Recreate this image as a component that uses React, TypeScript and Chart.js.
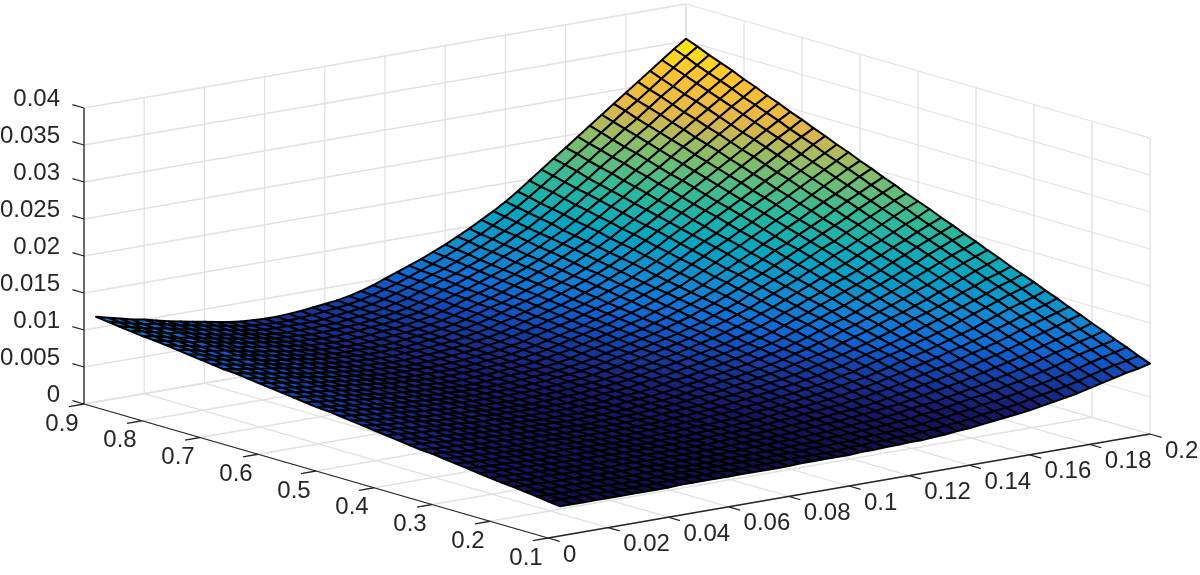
import React, { useEffect, useRef } from "react";
import { Chart, registerables } from "chart.js";

Chart.register(...registerables);

const xTicks = [0, 0.02, 0.04, 0.06, 0.08, 0.1, 0.12, 0.14, 0.16, 0.18, 0.2];
const xTickLabels = ["0", "0.02", "0.04", "0.06", "0.08", "0.1", "0.12", "0.14", "0.16", "0.18", "0.2"];
const yTicks = [0.1, 0.2, 0.3, 0.4, 0.5, 0.6, 0.7, 0.8, 0.9];
const yTickLabels = ["0.1", "0.2", "0.3", "0.4", "0.5", "0.6", "0.7", "0.8", "0.9"];
const zTicks = [0, 0.005, 0.01, 0.015, 0.02, 0.025, 0.03, 0.035, 0.04];
const zTickLabels = ["0", "0.005", "0.01", "0.015", "0.02", "0.025", "0.03", "0.035", "0.04"];

const xValues = [0.004,0.008,0.012,0.016,0.02,0.024,0.028,0.032,0.036,0.04,0.044,0.048,0.052,0.056,0.06,0.064,0.068,0.072,0.076,0.08,0.084,0.088,0.092,0.096,0.1,0.104,0.108,0.112,0.116,0.12,0.124,0.128,0.132,0.136,0.14,0.144,0.148,0.152,0.156,0.16,0.164,0.168,0.172,0.176,0.18,0.184,0.188,0.192,0.196,0.2];
const yValues = [0.1,0.12,0.14,0.16,0.18,0.2,0.22,0.24,0.26,0.28,0.3,0.32,0.34,0.36,0.38,0.4,0.42,0.44,0.46,0.48,0.5,0.52,0.54,0.56,0.58,0.6,0.62,0.64,0.66,0.68,0.7,0.72,0.74,0.76,0.78,0.8,0.82,0.84,0.86,0.88,0.9];

// surface height, in units of 0.0001, one row per yValues entry
const zRows = [
[40,40,40,40,40,40,40,40,40,40,41,41,41,41,41,41,41,41,41,41,42,42,42,42,42,43,43,44,44,45,45,46,47,49,50,52,54,56,58,60,63,66,69,72,76,80,84,88,91,95],
[42,42,42,42,42,41,41,41,41,41,42,42,42,42,42,42,42,42,42,42,43,43,43,43,43,45,45,46,46,47,47,49,50,52,53,55,58,60,62,64,68,71,74,77,81,86,90,94,97,101],
[44,44,43,43,43,43,43,42,42,42,43,43,43,43,43,43,43,43,43,43,44,44,44,45,45,46,46,48,48,49,50,51,52,55,56,59,61,64,66,69,72,76,79,83,87,91,96,100,104,108],
[46,45,45,45,45,44,44,44,43,43,44,44,44,43,43,43,43,44,44,44,45,45,45,46,46,48,48,49,50,51,52,54,55,58,59,62,65,68,70,73,77,80,84,88,92,97,102,106,110,114],
[48,47,47,46,46,46,45,45,45,44,45,45,44,44,44,44,44,44,45,45,46,46,47,47,48,49,50,51,52,54,54,56,58,61,63,65,68,71,74,77,81,85,89,93,98,103,107,112,116,121],
[49,49,48,48,48,47,47,46,46,45,46,46,45,45,45,45,45,45,45,46,47,47,48,48,49,51,52,53,54,56,57,59,61,63,66,69,72,75,78,82,86,90,94,98,103,108,113,118,122,127],
[51,51,50,49,49,48,48,47,47,46,47,46,46,46,46,46,46,46,46,47,48,48,49,50,51,52,53,55,56,58,59,61,63,66,69,72,76,79,83,86,90,95,99,104,109,114,119,124,129,134],
[53,52,52,51,51,50,49,49,48,48,48,47,47,47,47,47,47,47,47,48,49,49,50,51,52,54,55,57,58,60,61,64,66,69,72,75,79,83,87,90,95,100,104,109,114,120,125,130,135,140],
[55,54,53,53,52,51,50,50,49,49,49,48,48,48,47,47,48,48,48,49,50,50,51,52,53,55,57,59,60,62,64,66,69,72,75,79,83,87,91,95,100,104,109,114,120,125,131,136,141,147],
[57,56,55,54,54,53,52,51,50,50,50,49,49,48,48,48,48,49,49,50,51,51,52,53,55,57,58,60,62,64,66,69,72,75,78,82,86,91,95,99,104,109,114,119,125,131,137,142,147,153],
[59,58,57,56,55,54,53,52,52,51,51,50,50,49,49,49,49,50,50,51,52,52,54,55,56,59,60,62,64,66,69,71,74,78,81,86,90,95,99,104,109,114,119,125,131,137,143,149,154,160],
[61,60,58,57,57,55,54,53,53,52,52,51,50,50,50,50,50,50,51,51,53,54,55,56,58,60,62,64,66,69,71,74,77,81,84,89,94,98,103,108,113,119,124,130,136,142,148,155,160,166],
[62,61,60,59,58,56,56,55,54,53,53,52,51,51,51,51,51,51,52,52,54,55,56,57,59,62,63,66,68,71,73,76,80,84,88,92,97,102,107,112,118,124,129,135,141,148,154,161,166,172],
[64,63,62,60,60,58,57,56,55,54,54,53,52,52,51,51,52,52,53,53,55,56,57,59,61,63,65,68,70,73,76,79,83,87,91,95,101,106,111,117,123,128,134,140,147,153,160,167,173,179],
[66,65,63,62,61,60,58,57,56,55,55,54,53,53,52,52,53,53,54,54,56,57,58,60,62,65,67,70,72,75,78,81,85,90,94,99,104,110,115,121,127,133,139,146,152,159,166,173,179,185],
[68,67,65,64,63,61,60,58,57,56,56,55,54,53,53,53,53,54,55,55,57,58,59,61,63,66,68,72,74,77,80,84,88,92,97,102,108,114,119,125,132,138,144,151,158,165,172,179,185,192],
[70,68,67,65,64,62,61,60,58,57,57,55,55,54,54,54,54,55,55,56,58,59,60,62,65,68,70,73,76,79,83,86,91,95,100,106,112,118,124,129,136,143,149,156,163,170,178,185,192,198],
[72,70,68,67,66,64,62,61,60,58,58,56,56,55,55,55,55,55,56,57,59,60,61,64,67,69,72,75,78,82,85,89,93,98,103,109,115,121,128,134,141,147,154,161,169,176,184,191,198,205],
[74,72,70,68,67,65,63,62,61,59,59,57,56,56,55,55,56,56,57,58,60,61,63,65,68,71,74,77,80,84,87,91,96,101,106,112,119,125,132,138,146,152,159,167,174,182,189,197,204,211],
[76,74,72,70,69,67,65,63,62,60,60,58,57,57,56,56,57,57,58,59,61,62,64,66,69,72,75,79,82,86,90,94,99,104,109,116,122,129,136,143,150,157,164,172,180,187,195,203,210,218],
[78,76,74,72,70,68,66,65,63,62,61,59,58,58,57,57,58,58,59,60,62,63,65,68,71,74,77,81,84,88,92,97,102,107,113,119,126,133,140,147,155,162,170,177,185,193,201,209,217,224],
[79,77,75,73,72,69,67,66,64,63,61,60,59,58,58,58,58,59,60,61,63,64,66,69,72,76,79,82,86,90,94,99,104,110,116,122,130,137,144,151,159,167,175,182,191,199,207,215,223,230],
[81,79,77,75,73,71,69,67,65,64,62,61,60,59,59,59,59,60,61,62,63,65,67,70,73,77,80,84,88,92,97,102,107,113,119,126,133,141,148,156,164,172,180,188,196,204,213,221,229,237],
[83,81,79,76,75,72,70,68,66,65,63,62,61,60,59,59,60,61,62,63,64,66,68,71,75,79,82,86,90,94,99,104,110,116,122,129,137,145,152,160,169,176,185,193,201,210,219,227,235,243],
[85,83,80,78,76,74,71,69,68,66,64,63,62,61,60,60,61,61,63,64,65,67,70,73,76,80,84,88,92,97,101,107,112,119,125,132,140,148,156,164,173,181,190,198,207,216,224,233,242,250],
[87,84,82,79,78,75,73,71,69,67,65,64,63,62,61,61,62,62,64,65,66,68,71,74,78,82,86,90,94,99,104,109,115,122,128,136,144,152,161,169,178,186,195,203,212,221,230,239,248,256],
[89,86,84,81,79,76,74,72,70,68,66,64,63,62,62,62,62,63,64,66,67,69,72,75,79,83,87,91,96,101,106,112,118,124,131,139,148,156,165,173,182,191,200,209,218,227,236,245,254,263],
[91,88,85,83,81,78,75,73,71,69,67,65,64,63,63,63,63,64,65,67,68,70,73,76,81,85,89,93,98,103,108,114,121,127,134,142,151,160,169,177,187,196,205,214,223,233,242,251,260,269],
[93,90,87,84,82,79,76,74,72,70,68,66,65,64,63,63,64,65,66,68,69,72,74,78,82,86,91,95,100,105,111,117,123,130,138,146,155,164,173,182,192,201,210,219,229,238,248,257,267,276],
[94,91,89,86,84,81,78,76,73,71,69,67,66,65,64,64,65,66,67,69,70,73,75,79,83,88,92,97,102,107,113,119,126,133,141,149,158,168,177,186,196,205,215,225,234,244,254,264,273,282],
[96,93,90,87,85,82,79,77,75,72,70,68,67,66,65,65,66,67,68,70,71,74,77,80,85,89,94,99,104,110,116,122,129,136,144,153,162,172,181,191,200,210,220,230,240,250,260,270,279,289],
[98,95,92,89,87,83,80,78,76,73,71,69,68,67,66,66,67,67,69,71,72,75,78,82,86,91,96,101,106,112,118,124,131,139,147,156,166,175,185,195,205,215,225,235,245,255,266,276,286,295],
[100,97,93,90,88,85,82,79,77,74,72,70,68,67,67,67,67,68,70,72,73,76,79,83,88,93,97,102,108,114,120,127,134,142,150,159,169,179,189,199,210,220,230,240,251,261,271,282,292,302],
[102,99,95,92,90,86,83,80,78,75,73,71,69,68,67,67,68,69,71,72,74,77,80,84,89,94,99,104,110,116,123,129,137,145,153,163,173,183,193,204,214,224,235,245,256,267,277,288,298,308],
[104,100,97,93,91,88,84,82,79,77,74,72,70,69,68,68,69,70,72,73,75,78,81,85,90,96,101,106,112,118,125,132,140,148,156,166,176,187,197,208,219,229,240,251,261,272,283,294,304,315],
[106,102,99,95,93,89,86,83,80,78,75,73,71,70,69,69,70,71,73,74,76,79,82,87,92,97,102,108,114,120,127,134,142,151,159,169,180,191,201,212,223,234,245,256,267,278,289,300,311,321],
[107,104,100,96,94,90,87,84,81,79,76,73,72,71,70,70,71,72,73,75,77,80,83,88,93,99,104,110,116,122,130,137,145,153,163,173,183,195,205,217,228,239,250,261,272,283,295,306,317,328],
[109,106,102,98,96,92,88,85,82,80,77,74,72,71,71,71,72,72,74,76,78,81,85,89,95,100,106,111,118,124,132,139,148,156,166,176,187,198,209,221,232,243,255,266,278,289,300,312,323,334],
[111,107,103,100,97,93,90,87,84,81,78,75,73,72,72,72,72,73,75,77,79,82,86,91,96,102,108,113,120,127,134,142,150,159,169,179,191,202,214,225,237,248,260,271,283,295,306,318,329,340],
[113,109,105,101,99,95,91,88,85,82,79,76,74,73,72,72,73,74,76,78,80,83,87,92,97,103,109,115,122,129,137,144,153,162,172,183,194,206,218,230,241,253,265,277,288,300,312,324,336,347],
[115,111,107,103,100,96,92,89,86,83,80,77,75,74,73,73,74,75,77,79,81,84,88,93,99,105,111,117,124,131,139,147,156,165,175,186,198,210,222,234,246,258,270,282,294,306,318,330,342,353],
];

const surfaceLow = 40;
const surfaceHigh = 353;
const colormap = [
  [0, 18, 14, 70], [0.05, 22, 24, 105], [0.1, 22, 50, 150], [0.15, 18, 78, 190], [0.2, 15, 108, 215],
  [0.27, 20, 135, 210], [0.38, 8, 165, 195], [0.5, 45, 185, 155], [0.62, 125, 190, 110],
  [0.74, 225, 182, 75], [0.87, 254, 195, 50], [1, 249, 251, 14],
];

const colorFor = (t: number) => {
  for (let k = 1; k < colormap.length; k++) {
    const a = colormap[k - 1], b = colormap[k];
    if (t <= b[0]) {
      const f = (t - a[0]) / (b[0] - a[0]);
      return `rgb(${[1, 2, 3].map((c) => Math.round(a[c] + (b[c] - a[c]) * f)).join(",")})`;
    }
  }
  return "rgb(249,251,14)";
};

// Fixed view of the box: data (x, y, z) to the flat plane of the chart's scales.
const project = (x: number, y: number, z: number) => {
  const u = x / 0.2;
  const v = (y - 0.1) / 0.8;
  return { x: 548 + 602 * u - 464 * v, y: 538 - 104 * u - 134 * v - 7400 * z };
};

const lineDs = (data: { x: number; y: number }[], color: string, width: number) => ({
  data, borderColor: color, borderWidth: width, pointRadius: 0, showLine: true, fill: false, tension: 0,
  borderCapStyle: "butt" as const,
});

const INK = "#262626";
const GRID = "#e1e1e1";

const buildDatasets = () => {
  const top: any[] = [];
  const X0 = xTicks[0], X1 = xTicks[xTicks.length - 1];
  const Y0 = yTicks[0], Y1 = yTicks[yTicks.length - 1];
  const Z0 = zTicks[0], Z1 = zTicks[zTicks.length - 1];
  const tickLenX = 0.005, tickLenY = 0.02;
  // axes and their ticks
  top.push(lineDs([project(X0, Y0, Z0), project(X1, Y0, Z0)], INK, 1.3));
  top.push(lineDs([project(X0, Y0, Z0), project(X0, Y1, Z0)], INK, 1.3));
  top.push(lineDs([project(X0, Y1, Z0), project(X0, Y1, Z1)], INK, 1.3));
  xTicks.forEach((t) => top.push(lineDs([project(t, Y0, Z0), project(t, Y0 - tickLenY, Z0)], INK, 1.3)));
  yTicks.forEach((t) => top.push(lineDs([project(X0, t, Z0), project(X0 - tickLenX, t, Z0)], INK, 1.3)));
  zTicks.forEach((t) => top.push(lineDs([project(X0, Y1, t), project(X0, Y1 + tickLenY, t)], INK, 1.3)));

  // surface cells, nearest first: Chart.js paints the first dataset last
  const cells: any[] = [];
  for (let j = 0; j < yValues.length - 1; j++) {
    for (let i = 0; i < xValues.length - 1; i++) {
      const z = (a: number, b: number) => zRows[a][b] * 0.0001;
      const corner = zRows[j][i];
      cells.push({
        data: [
          project(xValues[i], yValues[j], z(j, i)),
          project(xValues[i + 1], yValues[j], z(j, i + 1)),
          project(xValues[i + 1], yValues[j + 1], z(j + 1, i + 1)),
          project(xValues[i], yValues[j + 1], z(j + 1, i)),
          project(xValues[i], yValues[j], z(j, i)),
        ],
        showLine: true, pointRadius: 0, tension: 0, fill: "shape",
        backgroundColor: colorFor((corner - surfaceLow) / (surfaceHigh - surfaceLow)),
        borderColor: "#000", borderWidth: 2, borderJoinStyle: "round" as const,
      });
    }
  }

  const grid: any[] = [];
  xTicks.forEach((t) => {
    grid.push(lineDs([project(t, Y1, Z0), project(t, Y1, Z1)], GRID, 1.3));
    grid.push(lineDs([project(t, Y0, Z0), project(t, Y1, Z0)], GRID, 1.3));
  });
  yTicks.forEach((t) => {
    grid.push(lineDs([project(X1, t, Z0), project(X1, t, Z1)], GRID, 1.3));
    grid.push(lineDs([project(X0, t, Z0), project(X1, t, Z0)], GRID, 1.3));
  });
  zTicks.forEach((t) => {
    grid.push(lineDs([project(X0, Y1, t), project(X1, Y1, t)], GRID, 1.3));
    grid.push(lineDs([project(X1, Y0, t), project(X1, Y1, t)], GRID, 1.3));
  });
  return [...top, ...cells, ...grid];
};

const tickLabelPlugin = {
  id: "tickLabels",
  afterDraw(chart: any) {
    const { ctx, scales } = chart;
    const put = (text: string, p: { x: number; y: number }, dx: number, dy: number, align: CanvasTextAlign) => {
      ctx.textAlign = align;
      ctx.fillText(text, scales.x.getPixelForValue(p.x) + dx, scales.y.getPixelForValue(p.y) + dy);
    };
    ctx.save();
    ctx.fillStyle = INK;
    ctx.font = '24px "Liberation Sans"';
    ctx.textBaseline = "middle";
    xTicks.forEach((t, k) => put(xTickLabels[k], project(t, 0.1, 0), 15, 17, "left"));
    yTicks.forEach((t, k) => put(yTickLabels[k], project(0, t, 0), -22, 20, "center"));
    zTicks.forEach((t, k) => put(zTickLabels[k], project(0, 0.9, t), -24, -9, "right"));
    ctx.restore();
  },
};

export default function App() {
  const ref = useRef<HTMLCanvasElement>(null);
  useEffect(() => {
    const chart = new Chart(ref.current!, {
      type: "scatter",
      data: { datasets: buildDatasets() },
      options: {
        animation: false,
        responsive: false,
        events: [],
        layout: { padding: 0 },
        plugins: { legend: { display: false }, tooltip: { enabled: false }, title: { display: false } },
        scales: {
          x: { type: "linear", display: false, min: 0, max: 1200 },
          y: { type: "linear", display: false, min: 0, max: 575, reverse: true },
        },
      },
      plugins: [tickLabelPlugin],
    } as any);
    return () => chart.destroy();
  }, []);
  return (
    <div style={{ position: "absolute", left: 0, top: 0, width: 1200, height: 575, background: "#fff" }}>
      <canvas ref={ref} width={1200} height={575} style={{ display: "block" }} />
    </div>
  );
}
